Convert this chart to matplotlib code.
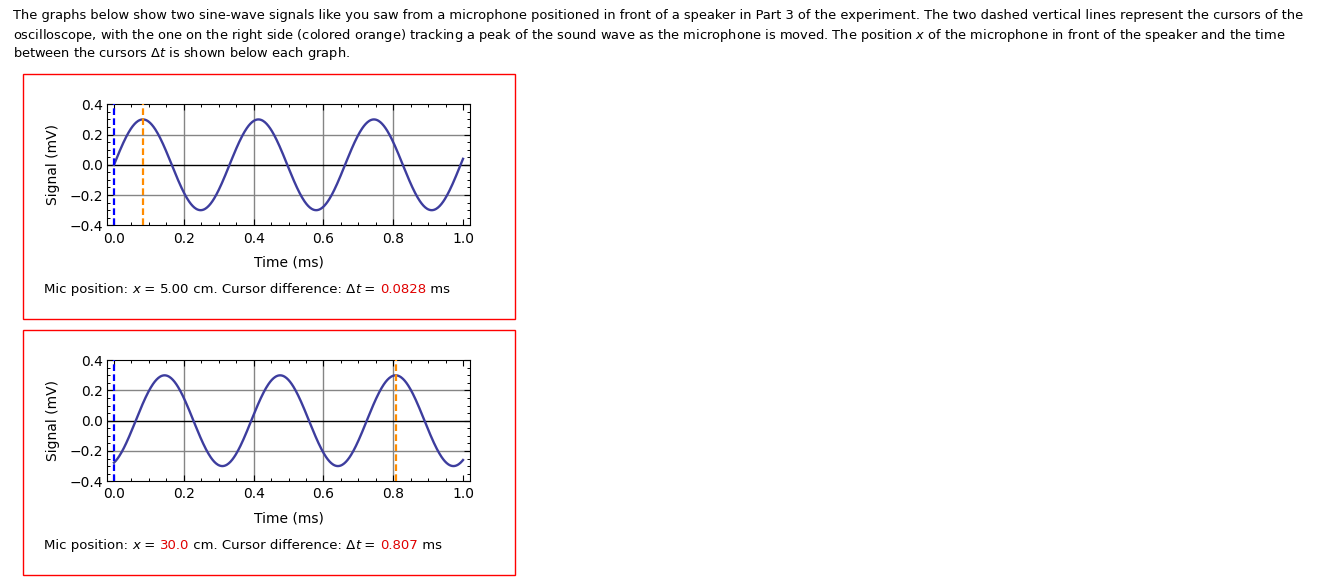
import matplotlib
matplotlib.use("Agg")
import matplotlib.pyplot as plt
import numpy as np
from matplotlib.offsetbox import TextArea, HPacker, AnchoredOffsetbox
from matplotlib.patches import Rectangle
from matplotlib.ticker import MultipleLocator

# values
amplitude = 0.3          # mV
period = 0.331           # ms
peak_times = [0.0828, 0.807]     # peak tracked in each panel (= orange cursor)
blue_cursor = [0.0, 0.0]
orange_cursor = [0.0828, 0.807]
mic_positions = ["5.00", "30.0"]
mic_red = [False, True]
delta_t = ["0.0828", "0.807"]
x_ticks = [0.0, 0.2, 0.4, 0.6, 0.8, 1.0]
y_ticks = [-0.4, -0.2, 0.0, 0.2, 0.4]

intro = [
    "The graphs below show two sine-wave signals like you saw from a microphone positioned in front of a speaker "
    "in Part 3 of the experiment. The two dashed vertical lines represent the cursors of the",
    "oscilloscope, with the one on the right side (colored orange) tracking a peak of the sound wave as the "
    "microphone is moved. The position $x$ of the microphone in front of the speaker and the time",
    "between the cursors \u0394$t$ is shown below each graph.",
]

W, H = 1341, 587
fig = plt.figure(figsize=(W / 100, H / 100), dpi=100)
plt.rcParams["font.family"] = ["DejaVu Sans"]
plt.rcParams["mathtext.fontset"] = "dejavusans"

wave_color = "#3d3d9e"
red = "#e00000"


def fx(px):
    return px / W


def fy(py):
    return 1 - py / H


for i, ypos in enumerate([15, 35, 54]):
    fig.text(fx(13), fy(ypos), intro[i], fontsize=9.35, va="center", ha="left")

panel_tops = [74, 330]
axes_tops = [104.3, 360.2]
t = np.linspace(0, 1, 600)

for k in range(2):
    # red frame around each panel
    fig.patches.append(Rectangle((fx(23.5), fy(panel_tops[k] + 245)), fx(491), 245 / H,
                                 transform=fig.transFigure, fill=False,
                                 edgecolor="red", linewidth=1))

    ax = fig.add_axes([fx(107), fy(axes_tops[k] + 121), fx(363), 121 / H])
    y = amplitude * np.cos(2 * np.pi * (t - peak_times[k]) / period)

    for gx in [0.2, 0.4, 0.6, 0.8]:
        ax.axvline(gx, color="#858585", linewidth=1, zorder=1)
    for gy in [-0.2, 0.2]:
        ax.axhline(gy, color="#858585", linewidth=1, zorder=1)
    ax.axhline(0, color="black", linewidth=1, zorder=1)

    ax.plot(t, y, color=wave_color, linewidth=1.7, zorder=3)
    ax.axvline(blue_cursor[k], color="#0000ff", linestyle=(0, (3, 1.5)), linewidth=1.6, zorder=4)
    ax.axvline(orange_cursor[k], color="#ff8c00", linestyle=(0, (3, 1.5)), linewidth=1.6, zorder=4)

    ax.set_xlim(-0.02, 1.02)
    ax.set_ylim(-0.4, 0.4)
    ax.set_xticks(x_ticks)
    ax.set_yticks(y_ticks)
    ax.set_xticklabels([f"{v:.1f}" for v in x_ticks])
    ax.set_yticklabels([f"{v:.1f}".replace("-", "\u2212") for v in y_ticks])
    ax.xaxis.set_minor_locator(MultipleLocator(0.05))
    ax.yaxis.set_minor_locator(MultipleLocator(0.05))
    ax.tick_params(which="both", direction="in", top=True, right=True, labelsize=10)
    ax.tick_params(axis="x", which="major", pad=4.5)
    ax.tick_params(axis="y", which="major", pad=3)
    ax.tick_params(which="major", length=4, width=0.8)
    ax.tick_params(which="minor", length=2.5, width=0.7)
    for s in ax.spines.values():
        s.set_linewidth(0.8)

    ax.set_xlabel("Time (ms)", fontsize=10, va="center")
    ax.xaxis.set_label_coords(0.5, -37.4 / 121)
    ax.set_ylabel("Signal (mV)", fontsize=10, va="center")
    ax.yaxis.set_label_coords((53 - 107) / 363, 0.5)

    # caption with coloured numbers
    fs = 9.5
    parts = [
        ("Mic position: ", "black", "normal"),
        ("x", "black", "italic"),
        (" = ", "black", "normal"),
        (mic_positions[k], red if mic_red[k] else "black", "normal"),
        (" cm. Cursor difference: \u0394", "black", "normal"),
        ("t", "black", "italic"),
        (" = ", "black", "normal"),
        (delta_t[k], red, "normal"),
        (" ms", "black", "normal"),
    ]
    boxes = [TextArea(s, textprops=dict(color=c, fontstyle=st, fontsize=fs)) for s, c, st in parts]
    pack = HPacker(children=boxes, align="baseline", pad=0, sep=0)
    cap_y = panel_tops[k] + 215.5
    ab = AnchoredOffsetbox(loc="center left", child=pack, pad=0, frameon=False,
                           bbox_to_anchor=(fx(44), fy(cap_y)),
                           bbox_transform=fig.transFigure, borderpad=0)
    fig.add_artist(ab)

fig.savefig("out.png", dpi=100)
